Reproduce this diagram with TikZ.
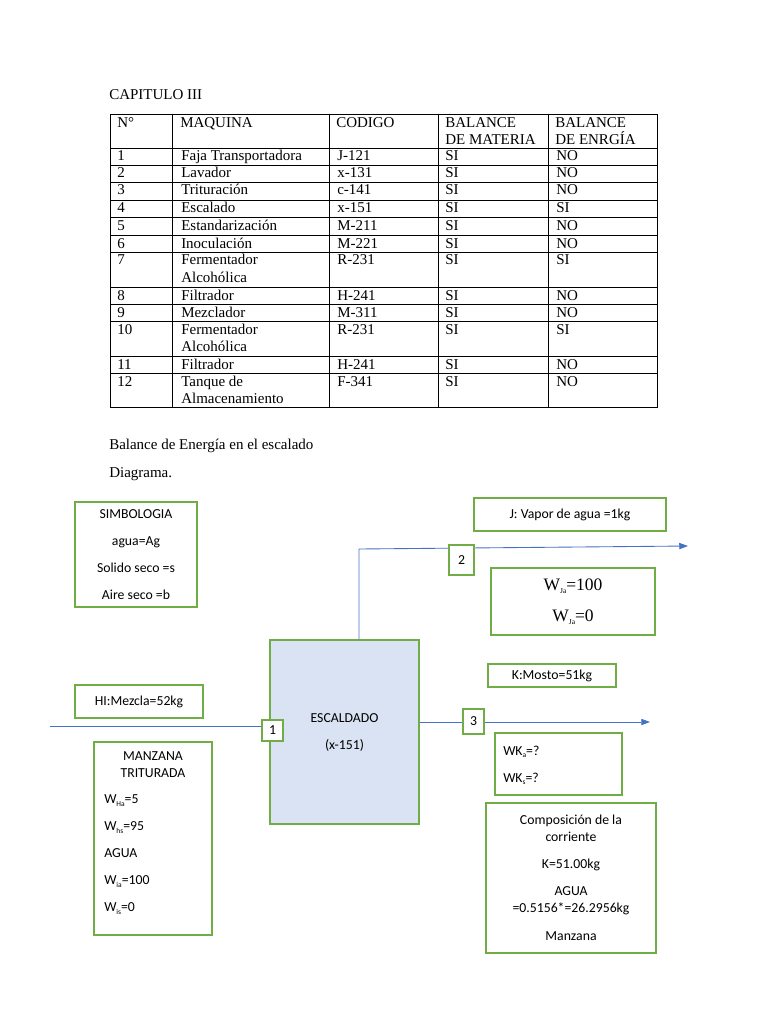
\documentclass[tikz,border=0pt]{standalone}
\usepackage{fontspec}
\setmainfont{Liberation Serif}
\newfontfamily\calibri{Carlito}
\usetikzlibrary{arrows.meta,positioning,calc}
\definecolor{boxgreen}{HTML}{70AD47}
\definecolor{flowblue}{HTML}{4472C4}
\definecolor{unitfill}{HTML}{DAE3F3}
\newcommand{\tinysub}[1]{\raisebox{-0.35ex}{\fontsize{6}{6}\selectfont #1}}

\begin{document}
\begin{tikzpicture}[x=0.8pt,y=-0.8pt,
 cell/.style={anchor=base west,inner sep=0pt,font=\fontsize{12}{14}\selectfont},
 sz/.style 2 args={minimum width=#1*0.8pt,minimum height=#2*0.8pt},
 gbox/.style={draw=boxgreen,line width=0.9pt,fill=white,inner sep=0pt,align=center,
   font=\calibri\fontsize{11}{13.6}\selectfont},
 wbox/.style={gbox,line width=1.7pt},
 txt/.style={inner sep=0pt,font=\calibri\fontsize{11}{13.6}\selectfont},
 flow/.style={draw=flowblue,line width=0.7pt},
 tip/.style={-{Triangle[length=7pt,width=5pt]}}]
\useasboundingbox (0,0) rectangle (768,1024);

% heading and machine table
\node[cell] (cap) at (109,100) {CAPITULO III};
\draw[line width=0.7pt] (110,114) rectangle (657,407);
\foreach \y in {148,165,182,200,217,235,252,287,304,321,356,373}
  \draw[line width=0.7pt] (110,\y) -- (657,\y);
\foreach \x in {172,329,438,548}
  \draw[line width=0.7pt] (\x,114) -- (\x,407);
\node[cell] (hn) at (117,128) {N°};
\node[cell] (hm) at (180,128) {MAQUINA};
\node[cell] (hc) at (336,128) {CODIGO};
\node[cell] (hbm) at (445,128) {BALANCE};
\node[cell] (hbm2) at (445,145) {DE MATERIA};
\node[cell] (hbe) at (555,128) {BALANCE};
\node[cell] (hbe2) at (555,145) {DE ENRGÍA};
\foreach \n/\m/\c/\b/\e/\y in {1/Faja Transportadora/J-121/SI/NO/148,
  2/Lavador/x-131/SI/NO/165, 3/Trituración/c-141/SI/NO/182,
  4/Escalado/x-151/SI/SI/200, 5/Estandarización/M-211/SI/NO/217,
  6/Inoculación/M-221/SI/NO/235, 7/Fermentador/R-231/SI/SI/252,
  8/Filtrador/H-241/SI/NO/287, 9/Mezclador/M-311/SI/NO/304,
  10/Fermentador/R-231/SI/SI/321, 11/Filtrador/H-241/SI/NO/356,
  12/Tanque de/F-341/SI/NO/373}
{
  \node[cell] (n\n) at (117,\y+13) {\n};
  \node[cell] (m\n) at (181,\y+13) {\m};
  \node[cell] (c\n) at (337,\y+13) {\c};
  \node[cell] (b\n) at (445,\y+13) {\b};
  \node[cell] (e\n) at (556,\y+13) {\e};
}
\node[cell] (m7b) at (181,282) {Alcohólica};
\node[cell] (m10b) at (181,351) {Alcohólica};
\node[cell] (m12b) at (181,403) {Almacenamiento};

\node[cell] (title) at (109,449) {Balance de Energía en el escalado};
\node[cell] (diag) at (109,477) {Diagrama.};

% diagram
\node[gbox,sz={122}{105},font=\calibri\fontsize{11}{21.6}\selectfont] (simb) at (136,554.5)
  {SIMBOLOGIA\\agua=Ag\\Solido seco =s\\Aire seco =b};
\node[gbox,fill=unitfill,sz={149}{184},font=\calibri\fontsize{11}{21.6}\selectfont] (esc) at (344.5,732)
  {ESCALDADO\\(x-151)};

\coordinate (s2) at (359,549);
\coordinate (o2) at (688,546);
\coordinate (i1) at (50,726);
\coordinate (o3) at (650,722);
\draw[flow,tip] (esc.north -| s2) -- (s2) -- (o2);
\draw[flow] (i1) -- (esc.west |- i1);
\draw[flow,tip] (esc.east |- o3) -- (o3);

\node[gbox,sz={25}{30}] (b2) at (461.5,560) {2};
\node[gbox,sz={21}{21}] (b1) at (272.5,730.5) {1};
\node[gbox,sz={21}{25}] (b3) at (473.5,721.5) {3};

\node[gbox,sz={192}{33}] (jbox) at (570,514.5) {J: Vapor de agua =1kg};
\node[wbox,sz={164}{67},font=\fontsize{14}{24.8}\selectfont] (wja) at (573,601.5)
  {W\tinysub{Ja}=100\\W\tinysub{Ja}=0};
\node[gbox,sz={128}{33}] (hi) at (139,701.5) {HI:Mezcla=52kg};
\node[gbox,sz={128}{23}] (kbox) at (552,675.5) {K:Mosto=51kg};

\node[gbox,sz={127}{62}] (wk) at (558.5,764) {};
\node[txt,anchor=west] (wka) at (503,752) {WK\tinysub{a}=?};
\node[txt,anchor=west] (wks) at (503,779) {WK\tinysub{s}=?};

\node[wbox,sz={118}{193}] (manz) at (153,838.5) {};
\node[txt,align=center] (mtit) at (153,764.5) {MANZANA\\TRITURADA};
\node[txt,anchor=west,align=left,font=\calibri\fontsize{11}{21.6}\selectfont] (mlist) at (104,854.5)
  {W\tinysub{Ha}=5\\W\tinysub{hs}=95\\AGUA\\W\tinysub{ia}=100\\W\tinysub{is}=0};

\node[gbox,sz={170}{150}] (comp) at (571,878)
  {Composición de la\\corriente\\[8pt]K=51.00kg\\[8pt]AGUA\\=0.5156*=26.2956kg\\[9pt]Manzana};
\end{tikzpicture}
\end{document}
